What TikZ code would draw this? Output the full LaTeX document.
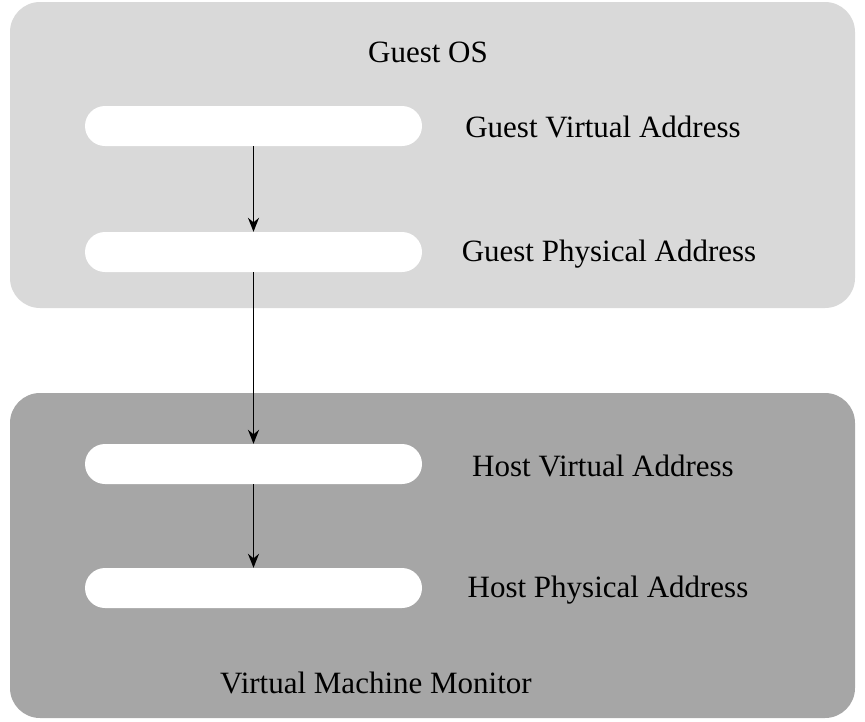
\documentclass[tikz,border=0pt]{standalone}
\usepackage{fontspec}
\setmainfont{Liberation Serif}
\usetikzlibrary{arrows.meta}
\begin{document}
\begin{tikzpicture}[x=1pt,y=-1pt,
  lbl/.style={font=\fontsize{31}{36}\selectfont,inner sep=0pt},
  pill/.style={fill=white,draw=none,rounded corners=20pt},
  arr/.style={-{Stealth[length=14pt,width=11pt]},line width=1.4pt}]
\useasboundingbox (0,0) rectangle (865,721);
\fill[fill={rgb,255:red,217;green,217;blue,217},rounded corners=30pt] (10,2) rectangle (855,308);
\fill[fill={rgb,255:red,166;green,166;blue,166},rounded corners=30pt] (10,393) rectangle (855,718);
\node[pill,minimum width=337pt,minimum height=40pt] (gv) at (253.5,126) {};
\node[pill,minimum width=337pt,minimum height=40pt] (gp) at (253.5,252) {};
\node[pill,minimum width=337pt,minimum height=40pt] (hv) at (253.5,464) {};
\node[pill,minimum width=337pt,minimum height=40pt] (hp) at (253.5,588) {};
\draw[arr] (gv.south) -- (gp.north);
\draw[arr] (gp.south) -- (hv.north);
\draw[arr] (hv.south) -- (hp.north);
\node[lbl] (os) at (428,52) {Guest OS};
\node[lbl] (t1) at (603,127) {Guest Virtual Address};
\node[lbl] (t2) at (609,254) {Guest Physical Address};
\node[lbl] (t3) at (603,466) {Host Virtual Address};
\node[lbl] (t4) at (608,590) {Host Physical Address};
\node[lbl] (vmm) at (376,683) {Virtual Machine Monitor};
\end{tikzpicture}
\end{document}
